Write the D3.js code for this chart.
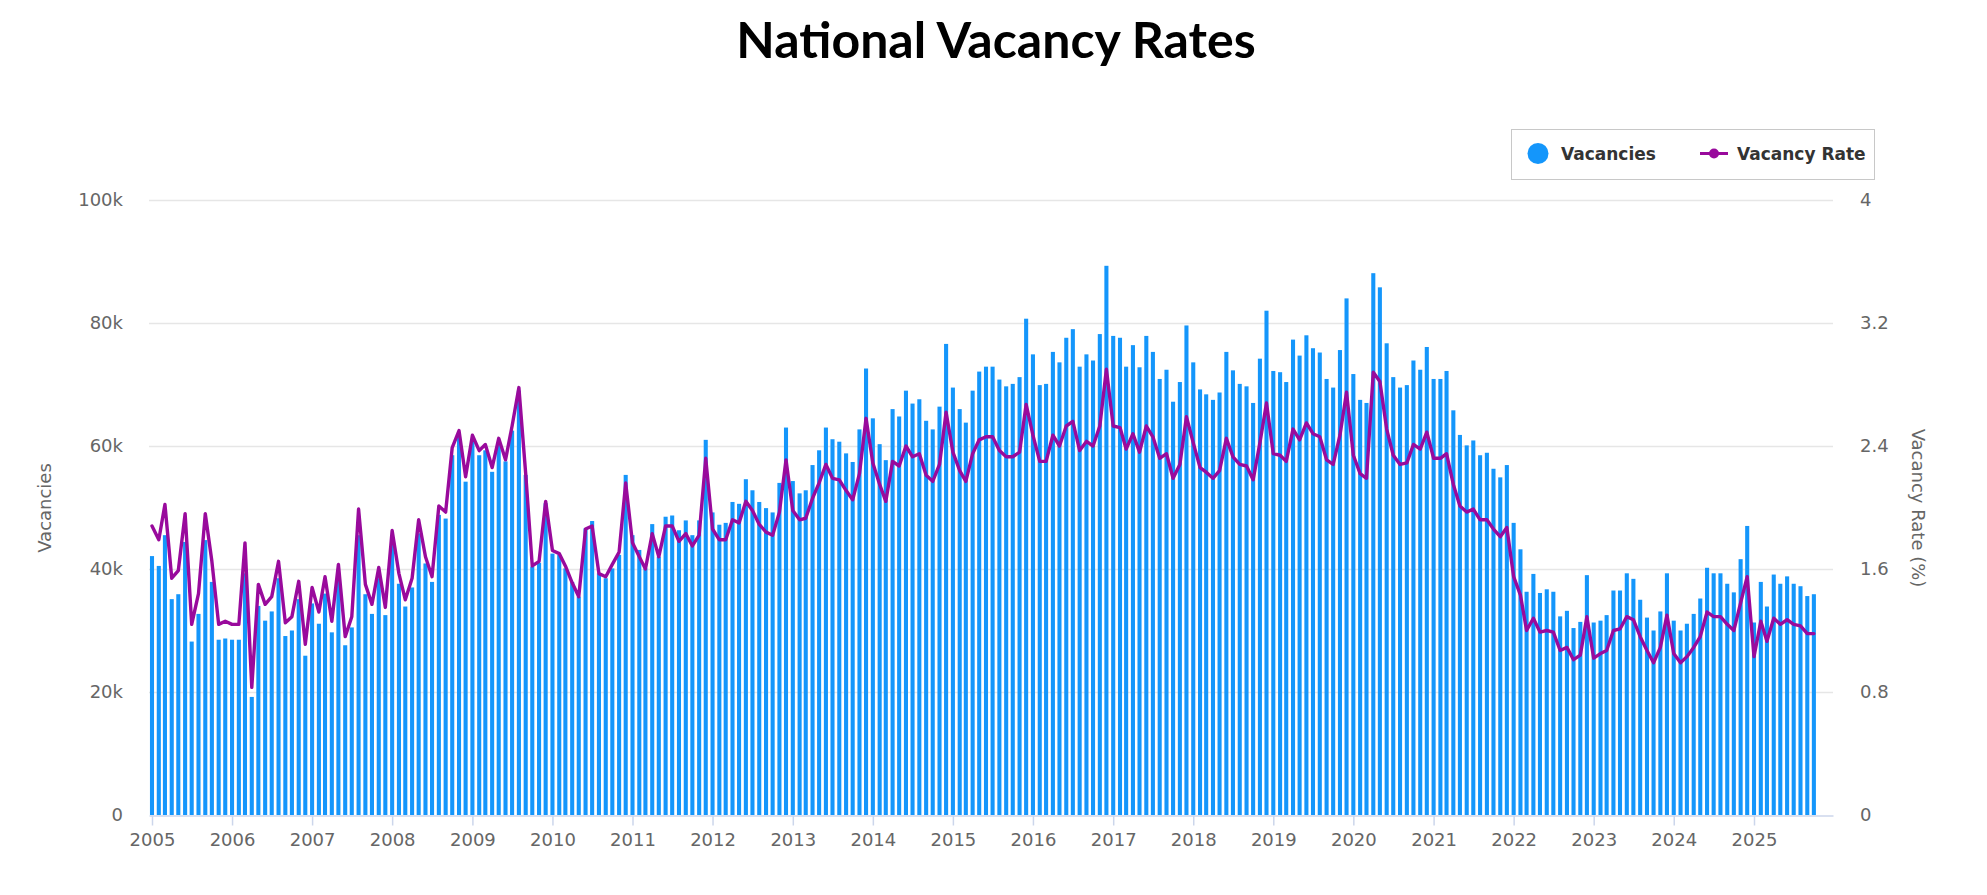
<!DOCTYPE html>
<html>
<head>
<meta charset="utf-8">
<script src="https://cdn.jsdelivr.net/npm/d3@7"></script>
<style>
  html, body { margin: 0; padding: 0; background: #fff; }
  svg { display: block; }
</style>
</head>
<body>
<svg id="chart" width="1987" height="895"></svg>
<script>
(function() {

// monthly data, Jan 2005 .. Oct 2025
var firstMonth = "2005-01";

var vacancies = [
  42.1, 40.5, 45.5, 35.1, 35.9, 44.4, 28.2, 32.7, 44.7, 37.9, 28.5, 28.7,
  28.5, 28.5, 39.3, 19.2, 34.0, 31.6, 33.1, 38.5, 29.1, 30.0, 35.1, 25.9,
  34.4, 31.1, 36.0, 29.7, 38.2, 27.6, 30.5, 45.5, 35.9, 32.7, 38.5, 32.5,
  44.0, 37.6, 33.9, 37.0, 45.8, 40.9, 37.9, 48.8, 48.2, 58.5, 61.5, 54.2,
  61.0, 58.5, 59.3, 55.8, 60.4, 57.5, 62.5, 69.0, 55.3, 40.4, 41.0, 50.7,
  42.5, 42.3, 40.1, 37.9, 35.5, 46.6, 47.8, 39.3, 38.5, 40.1, 42.3, 55.3,
  45.5, 43.1, 40.1, 47.3, 42.0, 48.5, 48.7, 46.3, 47.9, 45.5, 47.9, 61.0,
  49.2, 47.2, 47.5, 50.9, 50.6, 54.6, 52.8, 50.9, 49.9, 49.2, 54.0, 63.0,
  54.3, 52.3, 52.8, 56.9, 59.3, 63.0, 61.1, 60.7, 58.8, 57.4, 62.7, 72.6,
  64.5, 60.3, 57.7, 66.0, 64.8, 69.0, 66.9, 67.6, 64.1, 62.7, 66.4, 76.6,
  69.5, 66.0, 63.8, 69.0, 72.1, 72.9, 72.9, 70.8, 69.7, 70.1, 71.2, 80.7,
  74.9, 69.9, 70.1, 75.3, 73.6, 77.6, 79.0, 72.9, 74.9, 73.9, 78.2, 89.3,
  77.9, 77.6, 72.9, 76.4, 72.8, 77.9, 75.3, 70.9, 72.4, 67.2, 70.4, 79.6,
  73.6, 69.2, 68.4, 67.5, 68.7, 75.3, 72.3, 70.1, 69.7, 67.0, 74.2, 82.0,
  72.2, 72.0, 70.4, 77.3, 74.7, 78.0, 75.9, 75.2, 70.9, 69.5, 75.6, 84.0,
  71.7, 67.5, 67.0, 88.1, 85.8, 76.7, 71.2, 69.5, 69.9, 73.9, 72.4, 76.1,
  70.9, 70.9, 72.2, 65.8, 61.8, 60.1, 60.9, 58.5, 58.9, 56.3, 54.9, 56.9,
  47.5, 43.2, 36.3, 39.2, 36.1, 36.7, 36.3, 32.3, 33.2, 30.4, 31.4, 39.0,
  31.3, 31.6, 32.5, 36.5, 36.5, 39.3, 38.4, 35.0, 32.1, 30.0, 33.1, 39.3,
  31.6, 30.0, 31.1, 32.7, 35.2, 40.2, 39.3, 39.3, 37.6, 36.2, 41.6, 47.0,
  31.3, 37.9, 33.9, 39.1, 37.6, 38.8, 37.6, 37.2, 35.6, 35.9
].map(function(v) { return v * 1000; });

var vacancyRate = [
  1.88, 1.79, 2.02, 1.54, 1.59, 1.96, 1.24, 1.44, 1.96, 1.65, 1.24, 1.26,
  1.24, 1.24, 1.77, 0.83, 1.50, 1.37, 1.42, 1.65, 1.25, 1.29, 1.52, 1.11,
  1.48, 1.32, 1.55, 1.26, 1.63, 1.16, 1.29, 1.99, 1.50, 1.37, 1.61, 1.35,
  1.85, 1.57, 1.40, 1.54, 1.92, 1.68, 1.55, 2.01, 1.97, 2.39, 2.50, 2.20,
  2.47, 2.37, 2.41, 2.26, 2.45, 2.31, 2.53, 2.78, 2.22, 1.62, 1.65, 2.04,
  1.72, 1.70, 1.62, 1.51, 1.42, 1.86, 1.88, 1.57, 1.55, 1.63, 1.71, 2.16,
  1.77, 1.68, 1.60, 1.83, 1.68, 1.88, 1.88, 1.78, 1.83, 1.75, 1.82, 2.32,
  1.86, 1.79, 1.79, 1.92, 1.90, 2.04, 1.98, 1.89, 1.84, 1.82, 1.97, 2.31,
  1.98, 1.92, 1.93, 2.06, 2.16, 2.28, 2.19, 2.18, 2.11, 2.05, 2.22, 2.58,
  2.29, 2.15, 2.04, 2.30, 2.27, 2.40, 2.33, 2.35, 2.21, 2.17, 2.28, 2.62,
  2.36, 2.24, 2.17, 2.35, 2.44, 2.46, 2.46, 2.37, 2.33, 2.33, 2.36, 2.67,
  2.47, 2.30, 2.30, 2.47, 2.40, 2.53, 2.56, 2.37, 2.43, 2.40, 2.53, 2.90,
  2.53, 2.52, 2.38, 2.48, 2.36, 2.53, 2.46, 2.32, 2.35, 2.19, 2.28, 2.59,
  2.42, 2.26, 2.23, 2.19, 2.24, 2.45, 2.33, 2.28, 2.27, 2.18, 2.42, 2.68,
  2.35, 2.34, 2.30, 2.51, 2.44, 2.55, 2.48, 2.46, 2.31, 2.28, 2.47, 2.75,
  2.34, 2.22, 2.19, 2.88, 2.82, 2.51, 2.34, 2.28, 2.29, 2.41, 2.38, 2.49,
  2.32, 2.32, 2.35, 2.15, 2.01, 1.97, 1.99, 1.92, 1.92, 1.86, 1.81, 1.87,
  1.55, 1.43, 1.20, 1.28, 1.19, 1.20, 1.19, 1.07, 1.09, 1.01, 1.04, 1.29,
  1.02, 1.05, 1.07, 1.20, 1.21, 1.29, 1.27, 1.16, 1.07, 0.99, 1.09, 1.30,
  1.05, 0.99, 1.03, 1.09, 1.16, 1.32, 1.29, 1.29, 1.24, 1.20, 1.38, 1.55,
  1.03, 1.26, 1.13, 1.28, 1.24, 1.27, 1.24, 1.23, 1.18, 1.18
];

var yearTicks = d3.range(2005, 2026);
var vacancyTicks = [0, 20000, 40000, 60000, 80000, 100000];
var rateTicks = [0, 0.8, 1.6, 2.4, 3.2, 4];

var barColor = "#1496fb";
var lineColor = "#990a9c";
var labelFont = "'DejaVu Sans', sans-serif";

var plotLeft = 149, plotRight = 1833, plotTop = 200, plotBottom = 815;

var start = d3.utcParse("%Y-%m")(firstMonth);
var months = vacancies.map(function(d, i) { return d3.utcMonth.offset(start, i); });

// 2005 sits at 152, 2025 at 1754; extend the domain out to the plot edge
var x = d3.scaleUtc()
  .domain([Date.UTC(2005, 0, 1), Date.UTC(2025, 0, 1)])
  .range([152, 1754]);
x.domain([x.invert(plotLeft), x.invert(plotRight)]).range([plotLeft, plotRight]);

var y = d3.scaleLinear().domain([0, 100000]).range([plotBottom, plotTop]);
var yRate = d3.scaleLinear().domain([0, 4]).range([plotBottom, plotTop]);

var svg = d3.select("#chart");

// title
svg.append("text")
  .attr("x", 996)
  .attr("y", 58)
  .attr("text-anchor", "middle")
  .style("font-family", "Lato, sans-serif")
  .style("font-weight", 700)
  .style("font-size", "50px")
  .style("fill", "#000")
  .text("National Vacancy Rates");

// grid lines
svg.append("g")
  .selectAll("line")
  .data(vacancyTicks.slice(1))
  .enter().append("line")
  .attr("x1", plotLeft)
  .attr("x2", plotRight)
  .attr("y1", function(d) { return Math.round(y(d)) + 0.5; })
  .attr("y2", function(d) { return Math.round(y(d)) + 0.5; })
  .style("stroke", "#e6e6e6")
  .style("stroke-width", 1.5);

// left axis labels
svg.append("g")
  .selectAll("text")
  .data(vacancyTicks)
  .enter().append("text")
  .attr("x", 123)
  .attr("y", function(d) { return y(d); })
  .attr("dy", "0.36em")
  .attr("text-anchor", "end")
  .style("font-family", labelFont)
  .style("font-size", "18px")
  .style("fill", "#666")
  .text(function(d) { return d === 0 ? "0" : (d / 1000) + "k"; });

// right axis labels
svg.append("g")
  .selectAll("text")
  .data(rateTicks)
  .enter().append("text")
  .attr("x", 1860)
  .attr("y", function(d) { return yRate(d); })
  .attr("dy", "0.36em")
  .attr("text-anchor", "start")
  .style("font-family", labelFont)
  .style("font-size", "18px")
  .style("fill", "#666")
  .text(function(d) { return String(d); });

// axis titles
svg.append("text")
  .attr("transform", "translate(45,508) rotate(-90)")
  .attr("dy", "0.35em")
  .attr("text-anchor", "middle")
  .style("font-family", labelFont)
  .style("font-size", "18px")
  .style("fill", "#666")
  .text("Vacancies");

svg.append("text")
  .attr("transform", "translate(1918,508) rotate(90)")
  .attr("dy", "0.35em")
  .attr("text-anchor", "middle")
  .style("font-family", labelFont)
  .style("font-size", "18px")
  .style("fill", "#666")
  .text("Vacancy Rate (%)");

// bars
var step = x(months[1]) - x(months[0]);
var barW = step * 0.6;

svg.append("g")
  .selectAll("rect")
  .data(vacancies)
  .enter().append("rect")
  .attr("x", function(d, i) { return x(months[i]) - barW / 2; })
  .attr("y", function(d) { return y(d); })
  .attr("width", barW)
  .attr("height", function(d) { return plotBottom - y(d); })
  .style("fill", barColor);

// x axis
var xAxis = d3.axisBottom(x)
  .tickValues(yearTicks.map(function(yr) { return new Date(Date.UTC(yr, 0, 1)); }))
  .tickFormat(d3.utcFormat("%Y"))
  .tickSizeInner(10)
  .tickSizeOuter(0)
  .tickPadding(8);

var gx = svg.append("g")
  .attr("transform", "translate(0," + (plotBottom + 0.5) + ")")
  .call(xAxis);
gx.select(".domain").style("stroke", "#ccd6eb").style("stroke-width", 1.5);
gx.selectAll(".tick line").style("stroke", "#ccd6eb").style("stroke-width", 1.5);
gx.selectAll(".tick text")
  .style("font-family", labelFont)
  .style("font-size", "18px")
  .style("fill", "#666");

// rate line
var line = d3.line()
  .x(function(d, i) { return x(months[i]); })
  .y(function(d) { return yRate(d); });

svg.append("path")
  .datum(vacancyRate)
  .attr("d", line)
  .style("fill", "none")
  .style("stroke", lineColor)
  .style("stroke-width", 3.4)
  .style("stroke-linejoin", "round")
  .style("stroke-linecap", "round");

// legend
var legend = svg.append("g");
legend.append("rect")
  .attr("x", 1511.5)
  .attr("y", 129.5)
  .attr("width", 363)
  .attr("height", 50)
  .style("fill", "#fff")
  .style("stroke", "#c8c8c8")
  .style("stroke-width", 1);

legend.append("circle")
  .attr("cx", 1538)
  .attr("cy", 153.5)
  .attr("r", 10.5)
  .style("fill", barColor);

legend.append("text")
  .attr("x", 1561)
  .attr("y", 160)
  .style("font-family", labelFont)
  .style("font-weight", 700)
  .style("font-size", "17px")
  .style("fill", "#333")
  .text("Vacancies");

legend.append("line")
  .attr("x1", 1700).attr("x2", 1728)
  .attr("y1", 153.5).attr("y2", 153.5)
  .style("stroke", lineColor)
  .style("stroke-width", 3);

legend.append("circle")
  .attr("cx", 1714)
  .attr("cy", 153.5)
  .attr("r", 5)
  .style("fill", lineColor);

legend.append("text")
  .attr("x", 1737)
  .attr("y", 160)
  .style("font-family", labelFont)
  .style("font-weight", 700)
  .style("font-size", "17px")
  .style("fill", "#333")
  .text("Vacancy Rate");

})();
</script>
</body>
</html>
